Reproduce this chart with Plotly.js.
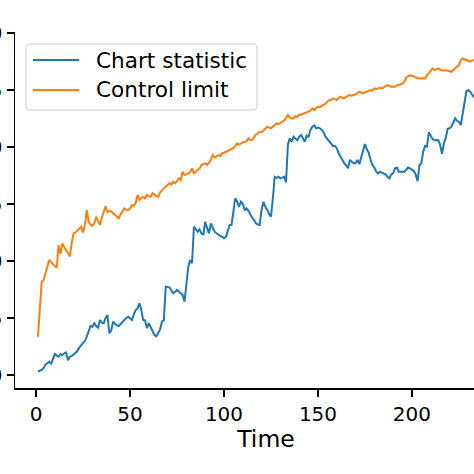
<!DOCTYPE html>
<html>
<head>
<meta charset="utf-8">
<script src="https://cdn.plot.ly/plotly-3.0.1.min.js"></script>
<style>
  html, body { margin: 0; padding: 0; width: 474px; height: 474px; overflow: hidden; background: #fff; }
  #chart { position: absolute; left: -80px; top: 0; width: 607px; height: 474px; }
</style>
</head>
<body>
<div id="chart"></div>
<script>
// Monitoring run: chart statistic against its control limit over time
const chartStatistic = [
  0.3, 0.35, 0.44, 0.6, 0.9, 1.03, 1.17, 1.0, 1.5, 1.84,
  1.7, 1.6, 1.84, 1.75, 1.9, 1.96, 1.3, 1.61, 1.65, 1.8,
  1.93, 2.1, 2.4, 2.6, 2.78, 3.0, 3.36, 3.9, 4.3, 4.24,
  4.54, 4.3, 4.15, 4.82, 4.6, 4.54, 5.0, 5.26, 3.66, 3.9,
  4.68, 4.5, 4.35, 4.3, 4.45, 4.6, 4.82, 5.0, 5.11, 4.97,
  4.82, 5.3, 5.7, 5.85, 6.29, 5.7, 4.82, 4.8, 4.1, 4.54,
  4.24, 3.9, 3.51, 3.4, 3.66, 4.0, 4.68, 4.82, 7.75, 7.75,
  7.69, 7.4, 7.17, 7.3, 7.46, 7.3, 7.17, 7.02, 6.43, 8.0,
  9.5, 10.09, 9.8, 13.01, 12.8, 12.57, 12.78, 12.43, 12.28, 13.45,
  12.9, 12.43, 13.3, 12.9, 12.57, 12.43, 12.3, 12.2, 12.13, 12.0,
  12.1, 12.6, 13.16, 13.16, 14.3, 15.5, 15.2, 14.76, 15.2, 15.0,
  14.47, 14.62, 14.4, 14.04, 13.8, 13.6, 13.31, 13.2, 13.16, 14.5,
  15.2, 14.76, 14.5, 14.1, 13.89, 15.5, 17.39, 17.3, 17.39, 17.25,
  17.3, 17.39, 16.9, 20.2, 20.76, 20.46, 20.9, 20.76, 20.6, 20.9,
  21.05, 20.76, 20.46, 21.0, 20.9, 21.5, 21.78, 21.9, 21.64, 21.7,
  21.64, 21.5, 21.3, 20.9, 20.7, 20.5, 20.32, 20.1, 20.1, 19.9,
  19.45, 19.2, 18.86, 18.57, 18.4, 18.13, 18.86, 18.7, 18.57, 18.6,
  18.86, 18.5, 19.15, 19.6, 20.26, 19.8, 19.5, 18.86, 18.4, 18.2,
  17.83, 17.68, 17.83, 17.75, 17.68, 17.6, 17.39, 17.25, 17.6, 17.7,
  18.13, 18.2, 17.83, 17.8, 17.83, 17.83, 18.0, 18.2, 18.13, 18.0,
  17.9, 17.6, 17.0, 18.4, 18.57, 19.6, 20.1, 20.03, 21.3, 21.0,
  20.7, 20.6, 20.61, 20.61, 20.2, 19.4, 20.3, 20.8, 21.6, 21.64,
  21.78, 22.1, 22.52, 22.3, 22.22, 21.93, 23.0, 24.0, 24.9, 25.0,
  24.85, 24.6, 24.4, 24.5, 24.7
];

const controlLimit = [
  3.36, 5.8, 8.18, 8.33, 8.9, 9.6, 10.09, 9.9, 9.7, 9.5,
  9.4, 11.4, 10.6, 11.55, 11.2, 10.9, 10.7, 10.4, 11.6, 12.43,
  12.5, 12.7, 12.9, 13.0, 12.5, 13.2, 14.47, 13.4, 13.2, 13.1,
  13.3, 13.89, 13.5, 13.16, 13.8, 14.4, 14.8, 14.3, 14.4, 14.35,
  14.2, 14.0, 13.85, 13.75, 14.1, 14.4, 14.62, 14.5, 14.47, 14.6,
  14.9, 14.85, 15.06, 15.8, 15.35, 15.5, 15.64, 15.5, 15.8, 15.7,
  15.64, 15.94, 15.8, 15.7, 15.64, 16.0, 16.2, 16.38, 16.5, 16.67,
  16.82, 16.7, 16.96, 16.82, 17.0, 17.25, 17.1, 17.83, 17.54, 17.6,
  17.69, 17.8, 18.13, 17.69, 17.8, 17.98, 18.1, 18.42, 18.5, 18.57,
  18.42, 18.6, 18.86, 19.3, 19.1, 19.15, 19.3, 19.2, 19.45, 19.5,
  19.59, 19.65, 19.74, 19.8, 19.89, 20.1, 20.32, 20.2, 20.32, 20.4,
  20.46, 20.5, 20.76, 20.6, 20.61, 20.9, 21.1, 21.2, 21.34, 21.3,
  21.49, 21.6, 21.78, 21.7, 21.64, 21.8, 21.9, 22.07, 22.0, 22.15,
  22.22, 22.3, 22.52, 22.81, 22.6, 22.5, 22.52, 22.7, 22.65, 22.81,
  22.85, 22.9, 22.96, 23.05, 23.1, 23.2, 23.39, 23.25, 23.4, 23.54,
  23.5, 23.6, 23.68, 23.8, 23.97, 24.12, 24.1, 24.27, 24.2, 24.12,
  24.3, 24.41, 24.3, 24.27, 24.41, 24.5, 24.56, 24.5, 24.56, 24.6,
  24.71, 24.85, 24.75, 24.71, 24.8, 24.85, 24.9, 25.0, 24.95, 25.15,
  25.1, 25.15, 25.2, 25.15, 25.29, 25.35, 25.44, 25.35, 25.29, 25.3,
  25.29, 25.4, 25.44, 25.5, 25.59, 25.73, 26.1, 26.2, 26.3, 26.25,
  26.17, 26.1, 26.05, 26.0, 26.0, 26.05, 26.0, 26.3, 26.46, 26.7,
  26.9, 26.75, 26.8, 26.9, 26.8, 26.75, 26.7, 26.75, 26.7, 26.65,
  26.6, 26.75, 26.9, 27.1, 27.19, 27.63, 27.78, 27.7, 27.63, 27.55,
  27.5, 27.6, 27.63, 27.6, 27.65
];

const timeSteps = chartStatistic.map((_, i) => i + 1);

const xTickVals = [0, 50, 100, 150, 200];
const yTickVals = [0, 5, 10, 15, 20, 25, 30];

const seriesNames = ['Chart statistic', 'Control limit'];
const seriesColors = ['#1f77b4', '#ff7f0e'];

const traces = [chartStatistic, controlLimit].map((vals, k) => ({
  type: 'scatter',
  mode: 'lines',
  x: timeSteps,
  y: vals,
  name: seriesNames[k],
  line: { color: seriesColors[k], width: 2 }
}));

// Legend frame with rounded corners, placed in paper units
const box = { x0: 0.0219, x1: 0.4821, y0: 0.7809, y1: 0.9663 };
const rx = 0.008, ry = 0.0112;
const framePath =
  `M ${box.x0 + rx},${box.y0} L ${box.x1 - rx},${box.y0} Q ${box.x1},${box.y0} ${box.x1},${box.y0 + ry} ` +
  `L ${box.x1},${box.y1 - ry} Q ${box.x1},${box.y1} ${box.x1 - rx},${box.y1} ` +
  `L ${box.x0 + rx},${box.y1} Q ${box.x0},${box.y1} ${box.x0},${box.y1 - ry} ` +
  `L ${box.x0},${box.y0 + ry} Q ${box.x0},${box.y0} ${box.x0 + rx},${box.y0} Z`;

const legendRows = [0.9213, 0.8371];
const shapes = [{
  type: 'path', xref: 'paper', yref: 'paper', path: framePath,
  line: { color: '#cccccc', width: 1 }, fillcolor: 'rgba(255,255,255,0.8)', layer: 'above'
}];
const annotations = [];
legendRows.forEach((yy, k) => {
  shapes.push({
    type: 'line', xref: 'paper', yref: 'paper',
    x0: 0.0359, x1: 0.1275, y0: yy, y1: yy,
    line: { color: seriesColors[k], width: 2 }, layer: 'above'
  });
  annotations.push({
    xref: 'paper', yref: 'paper', x: 0.157, y: yy,
    xanchor: 'left', yanchor: 'middle', showarrow: false,
    text: seriesNames[k],
    font: { family: 'DejaVu Sans', size: 21.6, color: '#000' }
  });
});

const axisCommon = {
  showline: true,
  linecolor: '#000',
  linewidth: 1.5,
  ticks: 'outside',
  ticklen: 7,
  tickwidth: 1.5,
  tickcolor: '#000',
  showgrid: false,
  zeroline: false,
  tickfont: { family: 'DejaVu Sans', size: 20, color: '#000' }
};

const layout = {
  width: 607,
  height: 474,
  margin: { l: 95, r: 10, t: 32, b: 86 },
  paper_bgcolor: '#fff',
  plot_bgcolor: '#fff',
  font: { family: 'DejaVu Sans', color: '#000' },
  showlegend: false,
  shapes: shapes,
  annotations: annotations,
  xaxis: Object.assign({}, axisCommon, {
    range: [-11.2, 255.9],
    tickvals: xTickVals,
    title: { text: 'Time', font: { family: 'DejaVu Sans', size: 23.5, color: '#000' }, standoff: 0 }
  }),
  yaxis: Object.assign({}, axisCommon, {
    range: [-1.14, 30.09],
    tickvals: yTickVals
  })
};

Plotly.newPlot('chart', traces, layout, { displayModeBar: false, staticPlot: true });
</script>
</body>
</html>
